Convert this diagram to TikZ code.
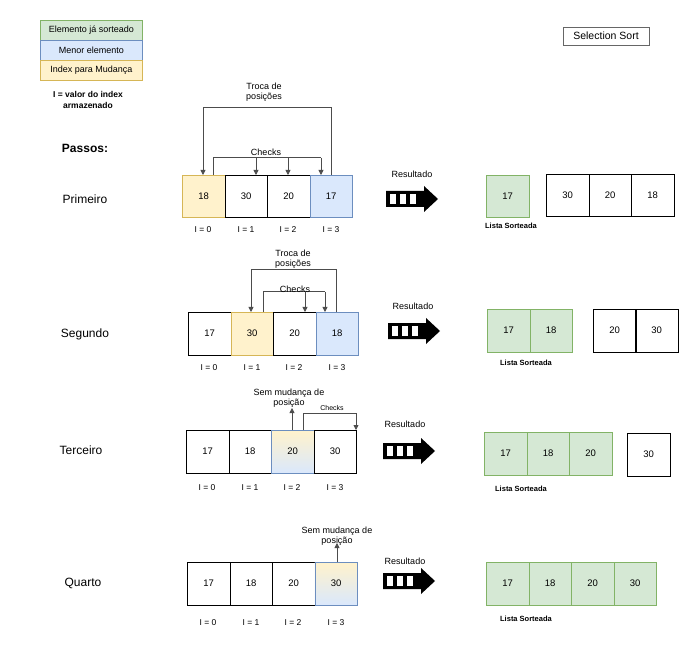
\documentclass[tikz,border=0pt]{standalone}
\usepackage{fontspec}
\setmainfont{Liberation Sans}
\usetikzlibrary{arrows.meta}
\definecolor{gF}{HTML}{D5E8D4}\definecolor{gD}{HTML}{82B366}
\definecolor{bF}{HTML}{DAE8FC}\definecolor{bD}{HTML}{6C8EBF}
\definecolor{yF}{HTML}{FFF2CC}\definecolor{yD}{HTML}{D6B656}
\begin{document}
\begin{tikzpicture}[x=1pt,y=-1pt,
  cell/.style={draw=black,line width=0.8pt,minimum width=42.5pt,minimum height=42.5pt,inner sep=0,font=\fontsize{9.5}{10}\selectfont,anchor=north west},
  gc/.style={cell,fill=gF,draw=gD},
  bc/.style={cell,fill=bF,draw=bD},
  yc/.style={cell,fill=yF,draw=yD},
  mc/.style={cell,top color=yF,bottom color=bF,draw=bD},
  lab/.style={font=\fontsize{8.5}{9}\selectfont},
  small/.style={font=\fontsize{9}{10.5}\selectfont,align=center},
  bsmall/.style={font=\bfseries\fontsize{7.5}{8}\selectfont},
  steplab/.style={font=\fontsize{12}{13}\selectfont},
  con/.style={draw=black!70,line width=0.8pt},
  arr/.style={con,-{Triangle[length=5pt,width=5pt]}},
  leg/.style={minimum width=102pt,minimum height=20pt,inner sep=0,font=\fontsize{9}{10}\selectfont,anchor=north west,line width=0.8pt},
  pics/res/.style={code={
    \fill[black] (0,-8) -- (38,-8) -- (38,-13) -- (52,0) -- (38,13) -- (38,8) -- (0,8) -- cycle;
    \foreach \s in {4,14,24} \fill[white] (\s,-5) rectangle (\s+6,5);}}]
\useasboundingbox (0,0) rectangle (696,660);
% legend
\node[leg,fill=gF,draw=gD] (l1) at (40,20) {Elemento já sorteado};
\node[leg,fill=bF,draw=bD] (l2) at (40,40) {Menor elemento};
\node[leg,fill=yF,draw=yD] (l3) at (40,60) {Index para Mudança};
\node[font=\bfseries\fontsize{8.5}{11}\selectfont,align=center] (li) at (88,100) {I = valor do index\\armazenado};
\node[draw=black!60,font=\fontsize{10.5}{11}\selectfont,minimum width=86pt,minimum height=18pt,inner sep=0] (title) at (606,36) {Selection Sort};
\node[font=\bfseries\fontsize{12}{13}\selectfont] (passos) at (85,148) {Passos:};
% row 1
\node[steplab] (s1) at (85,199) {Primeiro};
\node[yc] (a0) at (182,175) {18};
\node[cell] (a1) at (224.5,175) {30};
\node[cell] (a2) at (267,175) {20};
\node[bc] (a3) at (309.5,175) {17};
\foreach \i/\x in {0/203,1/246,2/288,3/331} \node[lab] (ai\i) at (\x,230) {I = \i};
\draw[arr] (331,175) -- (331,107) -- (203,107) -- (203,175);
\node[small] (t1) at (264,92) {Troca de\\posições};
\draw[con,line width=1pt] (213,175) -- (213,158) -- (321,158);
\foreach \x in {256,288,321} \draw[arr] (\x,158) -- (\x,175);
\node[small] (c1) at (266,152) {Checks};
\node[small] (r1) at (412,174) {Resultado};
\pic at (386,199) {res};
\node[gc] (b0) at (486,175) {17};
\node[bsmall] (ls1) at (511,226) {Lista Sorteada};
\node[cell] (b1) at (546,174) {30};
\node[cell] (b2) at (588.5,174) {20};
\node[cell] (b3) at (631,174) {18};
% row 2
\node[steplab] (s2) at (85,334) {Segundo};
\node[cell] (d0) at (188,312) {17};
\node[yc] (d1) at (230.5,312) {30};
\node[cell] (d2) at (273,312) {20};
\node[bc] (d3) at (315.5,312) {18};
\foreach \i/\x in {0/209,1/252,2/294,3/337} \node[lab] (di\i) at (\x,368) {I = \i};
\draw[arr] (336,312) -- (336,269) -- (251,269) -- (251,312);
\node[small] (t2) at (293,259) {Troca de\\posições};
\draw[con,line width=1pt] (263,312) -- (263,292) -- (325,292);
\foreach \x in {305,325} \draw[arr] (\x,292) -- (\x,312);
\node[small] (c2) at (295,289) {Checks};
\node[small] (r2) at (413,306) {Resultado};
\pic at (388,331) {res};
\node[gc] (e0) at (487,309) {17};
\node[gc] (e1) at (529.5,309) {18};
\node[bsmall] (ls2) at (526,363) {Lista Sorteada};
\node[cell] (e2) at (593,309) {20};
\node[cell] (e3) at (635,309) {30};
% row 3
\node[steplab] (s3) at (81,450) {Terceiro};
\node[cell] (f0) at (186,430) {17};
\node[cell] (f1) at (228.5,430) {18};
\node[mc] (f2) at (271,430) {20};
\node[cell] (f3) at (313.5,430) {30};
\foreach \i/\x in {0/207,1/250,2/292,3/335} \node[lab] (fi\i) at (\x,488) {I = \i};
\draw[arr] (292,430) -- (292,408);
\node[small] (t3) at (289,398) {Sem mudança de\\posição};
\draw[con] (303,430) -- (303,413) -- (356,413);
\draw[arr] (356,413) -- (356,430);
\node[font=\fontsize{7}{8}\selectfont] (c3) at (332,408) {Checks};
\node[small] (r3) at (405,424) {Resultado};
\pic at (383,451) {res};
\node[gc] (g0) at (484,432) {17};
\node[gc] (g1) at (526.5,432) {18};
\node[gc] (g2) at (569,432) {20};
\node[bsmall] (ls3) at (521,489) {Lista Sorteada};
\node[cell] (g3) at (627,433) {30};
% row 4
\node[steplab] (s4) at (83,583) {Quarto};
\node[cell] (h0) at (187,562) {17};
\node[cell] (h1) at (229.5,562) {18};
\node[cell] (h2) at (272,562) {20};
\node[mc] (h3) at (314.5,562) {30};
\foreach \i/\x in {0/208,1/251,2/293,3/336} \node[lab] (hi\i) at (\x,623) {I = \i};
\draw[arr] (337,562) -- (337,543);
\node[small] (t4) at (337,536) {Sem mudança de\\posição};
\node[small] (r4) at (405,561) {Resultado};
\pic at (383,581) {res};
\node[gc] (k0) at (486,562) {17};
\node[gc] (k1) at (528.5,562) {18};
\node[gc] (k2) at (571,562) {20};
\node[gc] (k3) at (613.5,562) {30};
\node[bsmall] (ls4) at (526,619) {Lista Sorteada};
\end{tikzpicture}
\end{document}
